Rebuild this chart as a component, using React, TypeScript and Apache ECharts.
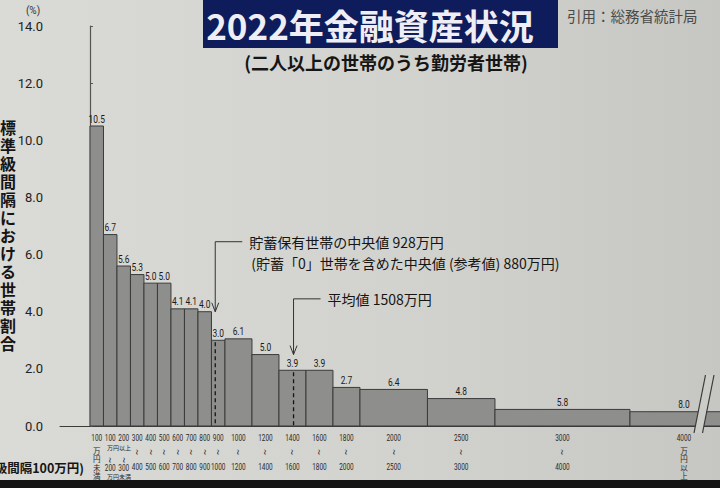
import React, { useEffect, useRef } from "react";
import * as echarts from "echarts";

// ---- data ----
const binStarts = [0, 100, 200, 300, 400, 500, 600, 700, 800, 900, 1000, 1200, 1400, 1600, 1800, 2000, 2500, 3000, 4000];
const binEnds = [100, 200, 300, 400, 500, 600, 700, 800, 900, 1000, 1200, 1400, 1600, 1800, 2000, 2500, 3000, 4000, 4800];
const shareLabels = [10.5, 6.7, 5.6, 5.3, 5.0, 5.0, 4.1, 4.1, 4.0, 3.0, 6.1, 5.0, 3.9, 3.9, 2.7, 6.4, 4.8, 5.8, 8.0];
// height per 100万円 interval (as drawn)
const barHeights = [10.5, 6.7, 5.6, 5.3, 5.0, 5.0, 4.1, 4.1, 4.0, 3.0, 3.05, 2.5, 1.95, 1.95, 1.35, 1.28, 0.96, 0.58, 0.5];
const topTickLabels = ["100", "100", "200", "300", "400", "500", "600", "700", "800", "900", "1000", "1200", "1400", "1600", "1800", "2000", "2500", "3000", "4000"];
const bottomTickLabels = ["", "200", "300", "400", "500", "600", "700", "800", "900", "1000", "1200", "1400", "1600", "1800", "2000", "2500", "3000", "4000", ""];
const unitTopLabels = ["万円未満", "万円以上", "", "", "", "", "", "", "", "", "", "", "", "", "", "", "", "", "万円以上"];
const unitBottomLabels = ["", "万円未満", "", "", "", "", "", "", "", "", "", "", "", "", "", "", "", "", ""];

const markerValues = [928, 1508];
const markerTops = [3.0, 1.95];
const markerArrowTips = [4.0, 2.5];
const markerConnectors = [6.45, 4.45];
const markerTexts = [
  ["貯蓄保有世帯の中央値 928万円", "(貯蓄「0」世帯を含めた中央値 (参考値) 880万円)"],
  ["平均値 1508万円"],
];

const yMin = 0;
const yMax = 14;
const yStep = 2;

const titleText = "2022年金融資産状況";
const subtitleText = "(二人以上の世帯のうち勤労者世帯)";
const sourceText = "引用：総務省統計局";
const yAxisTitle = "標準級間隔における世帯割合";
const xAxisNote = "(階級間隔100万円)";

const FONT_NUM = "Roboto, 'Liberation Sans', 'Noto Sans CJK JP', sans-serif";
const FONT_JP = "'Noto Sans CJK JP', 'Noto Sans', sans-serif";

function txt(x: number, y: number, text: string, size: number, o: any = {}) {
  const align = o.align || "center";
  const va = o.va || "middle";
  const el: any = {
    type: "text",
    x,
    y,
    silent: true,
    style: {
      text,
      fill: o.fill || "#1a1a1a",
      fontSize: size,
      fontFamily: o.family || FONT_NUM,
      fontWeight: o.weight || "normal",
      align,
      verticalAlign: va,
      textAlign: align,
      textVerticalAlign: va,
    },
  };
  if (o.lh) el.style.lineHeight = o.lh;
  if (o.z != null) el.z = o.z;
  if (o.sx != null) el.scaleX = o.sx;
  if (o.rot != null) el.rotation = o.rot;
  return el;
}

export default function App() {
  const ref = useRef<HTMLDivElement>(null);

  useEffect(() => {
    document.body.style.margin = "0";
    const chart = echarts.init(ref.current!, null, { renderer: "svg" });

    const barData = binStarts.map((s, i) => [s, binEnds[i], barHeights[i]]);
    const markerData = markerValues.map((v, i) => [v, markerTops[i], markerArrowTips[i], markerConnectors[i]]);

    const yTitleChars = yAxisTitle.split("").map((ch, k) =>
      txt(8, 127 + k * 18, ch, 16, { fill: "#151515", family: FONT_JP, weight: "bold", z: 101 })
    );

    const tickColor = "#2a2a2a";

    const option: any = {
      animation: false,
      grid: { left: 60, right: 0, top: 26, bottom: 62 },
      xAxis: {
        type: "value",
        min: -222,
        max: 4667,
        axisLine: { show: true, onZero: true, lineStyle: { color: "#3b3b3b", width: 1 } },
        axisTick: { show: false },
        axisLabel: { show: false },
        splitLine: { show: false },
      },
      yAxis: {
        type: "value",
        min: yMin,
        max: yMax,
        interval: yStep,
        axisLine: { show: true, lineStyle: { color: "#555", width: 1.2 } },
        axisTick: { show: true, inside: true, length: 3, lineStyle: { color: "#555" } },
        axisLabel: {
          color: "#222",
          fontSize: 13,
          fontFamily: FONT_NUM,
          margin: 17,
          formatter: (v: number) => v.toFixed(1),
        },
        splitLine: { show: false },
      },
      graphic: [
        {
          type: "rect",
          z: -100,
          silent: true,
          shape: { x: 0, y: 0, width: 720, height: 488 },
          style: {
            fill: new echarts.graphic.LinearGradient(0, 0, 1, 0, [
              { offset: 0, color: "#dadad6" },
              { offset: 0.6, color: "#d1d1cd" },
              { offset: 1, color: "#c6c6c2" },
            ]),
          },
        },
        { type: "rect", z: 100, silent: true, shape: { x: 0, y: 480, width: 720, height: 8 }, style: { fill: "#141414" } },
        { type: "rect", z: 100, silent: true, shape: { x: 203, y: -2, width: 355, height: 50 }, style: { fill: "#0f1c5b" } },
        txt(370, 24, titleText, 35, { fill: "#eeeef4", family: FONT_JP, weight: "bold", z: 101 }),
        txt(386, 62, subtitleText, 18, { fill: "#151515", family: FONT_JP, weight: "bold", z: 101 }),
        txt(567, 15, sourceText, 14.5, { fill: "#4a4a4a", family: FONT_JP, align: "left", z: 101 }),
        txt(33, 10, "(%)", 10, { fill: "#333", z: 101 }),
        ...yTitleChars,
        txt(84, 467, xAxisNote, 12.5, { fill: "#151515", family: FONT_JP, weight: "bold", align: "right", z: 101 }),
        {
          type: "polygon",
          z: 100,
          silent: true,
          shape: { points: [[694, 433], [705.5, 375], [714, 375], [702.5, 433]] },
          style: { fill: "#cbcbc7" },
        },
        { type: "line", z: 101, silent: true, shape: { x1: 694, y1: 433, x2: 705.5, y2: 375 }, style: { stroke: "#3a3a3a", lineWidth: 1.2 } },
        { type: "line", z: 101, silent: true, shape: { x1: 702.5, y1: 433, x2: 714, y2: 375 }, style: { stroke: "#3a3a3a", lineWidth: 1.2 } },
      ],
      series: [
        {
          type: "custom",
          z: 2,
          clip: false,
          data: barData,
          renderItem: (params: any, api: any) => {
            const i = params.dataIndex;
            const s = api.value(0);
            const e = api.value(1);
            const h = api.value(2);
            const base = api.coord([s, 0]);
            const top = api.coord([e, h]);
            const cs = params.coordSys;
            const xr = Math.min(top[0], cs.x + cs.width + 2);
            const cx = (base[0] + top[0]) / 2;
            const y0 = base[1];
            const children: any[] = [
              {
                type: "rect",
                shape: { x: base[0], y: top[1], width: xr - base[0], height: y0 - top[1] },
                style: { fill: "#8e8e8c", stroke: "#3b3b3b", lineWidth: 1 },
              },
              txt(cx, top[1] - 2, shareLabels[i].toFixed(1), 10.5, { va: "bottom", fill: "#1a1a1a", sx: 0.8 }),
              txt(cx, y0 + 12, topTickLabels[i], 8.5, { fill: tickColor, sx: 0.76 }),
            ];
            const bottom = bottomTickLabels[i];
            if (bottom) {
              const shifted = i === 1 || i === 2;
              children.push(txt(cx, y0 + (shifted ? 34 : 26), "~", 9, { fill: tickColor, rot: -Math.PI / 2 }));
              children.push(txt(cx, y0 + (shifted ? 42 : 41), bottom, 8.5, { fill: tickColor, sx: 0.76 }));
              if (unitTopLabels[i]) {
                children.push(txt(top[0] + 2, y0 + 21, unitTopLabels[i], 6, { family: FONT_JP, fill: tickColor }));
              }
              if (unitBottomLabels[i]) {
                children.push(txt(top[0] + 2, y0 + 50, unitBottomLabels[i], 6, { family: FONT_JP, fill: tickColor }));
              }
            } else if (unitTopLabels[i]) {
              unitTopLabels[i].split("").forEach((ch, k) => {
                children.push(txt(cx, y0 + 24 + k * 8.6, ch, 7.5, { family: FONT_JP, fill: tickColor }));
              });
            }
            return { type: "group", children };
          },
        },
        {
          type: "custom",
          z: 3,
          clip: false,
          data: markerData,
          renderItem: (params: any, api: any) => {
            const i = params.dataIndex;
            const v = api.value(0);
            const pBase = api.coord([v, 0]);
            const pTop = api.coord([v, api.value(1)]);
            const pTip = api.coord([v, api.value(2)]);
            const pLine = api.coord([v, api.value(3)]);
            const x = pBase[0];
            const children: any[] = [
              {
                type: "line",
                shape: { x1: x, y1: pTop[1] + 2, x2: x, y2: pBase[1] },
                style: { stroke: "#151515", lineWidth: 1.3, lineDash: [4, 3] },
              },
              {
                type: "polyline",
                shape: { points: [[x + 27, pLine[1]], [x, pLine[1]], [x, pTip[1]]] },
                style: { stroke: "#333", lineWidth: 1, fill: null },
              },
              {
                type: "polyline",
                shape: { points: [[x - 3.5, pTip[1] - 9], [x, pTip[1]], [x + 3.5, pTip[1] - 9]] },
                style: { stroke: "#333", lineWidth: 1, fill: null },
              },
            ];
            markerTexts[i].forEach((t, k) => {
              children.push(
                txt(x + 34 + k * 2, pLine[1] + k * 21, t, 14, { align: "left", family: FONT_JP, fill: "#151515" })
              );
            });
            return { type: "group", children };
          },
        },
      ],
    };

    chart.setOption(option);
    return () => chart.dispose();
  }, []);

  return <div ref={ref} style={{ width: 720, height: 488 }} />;
}
